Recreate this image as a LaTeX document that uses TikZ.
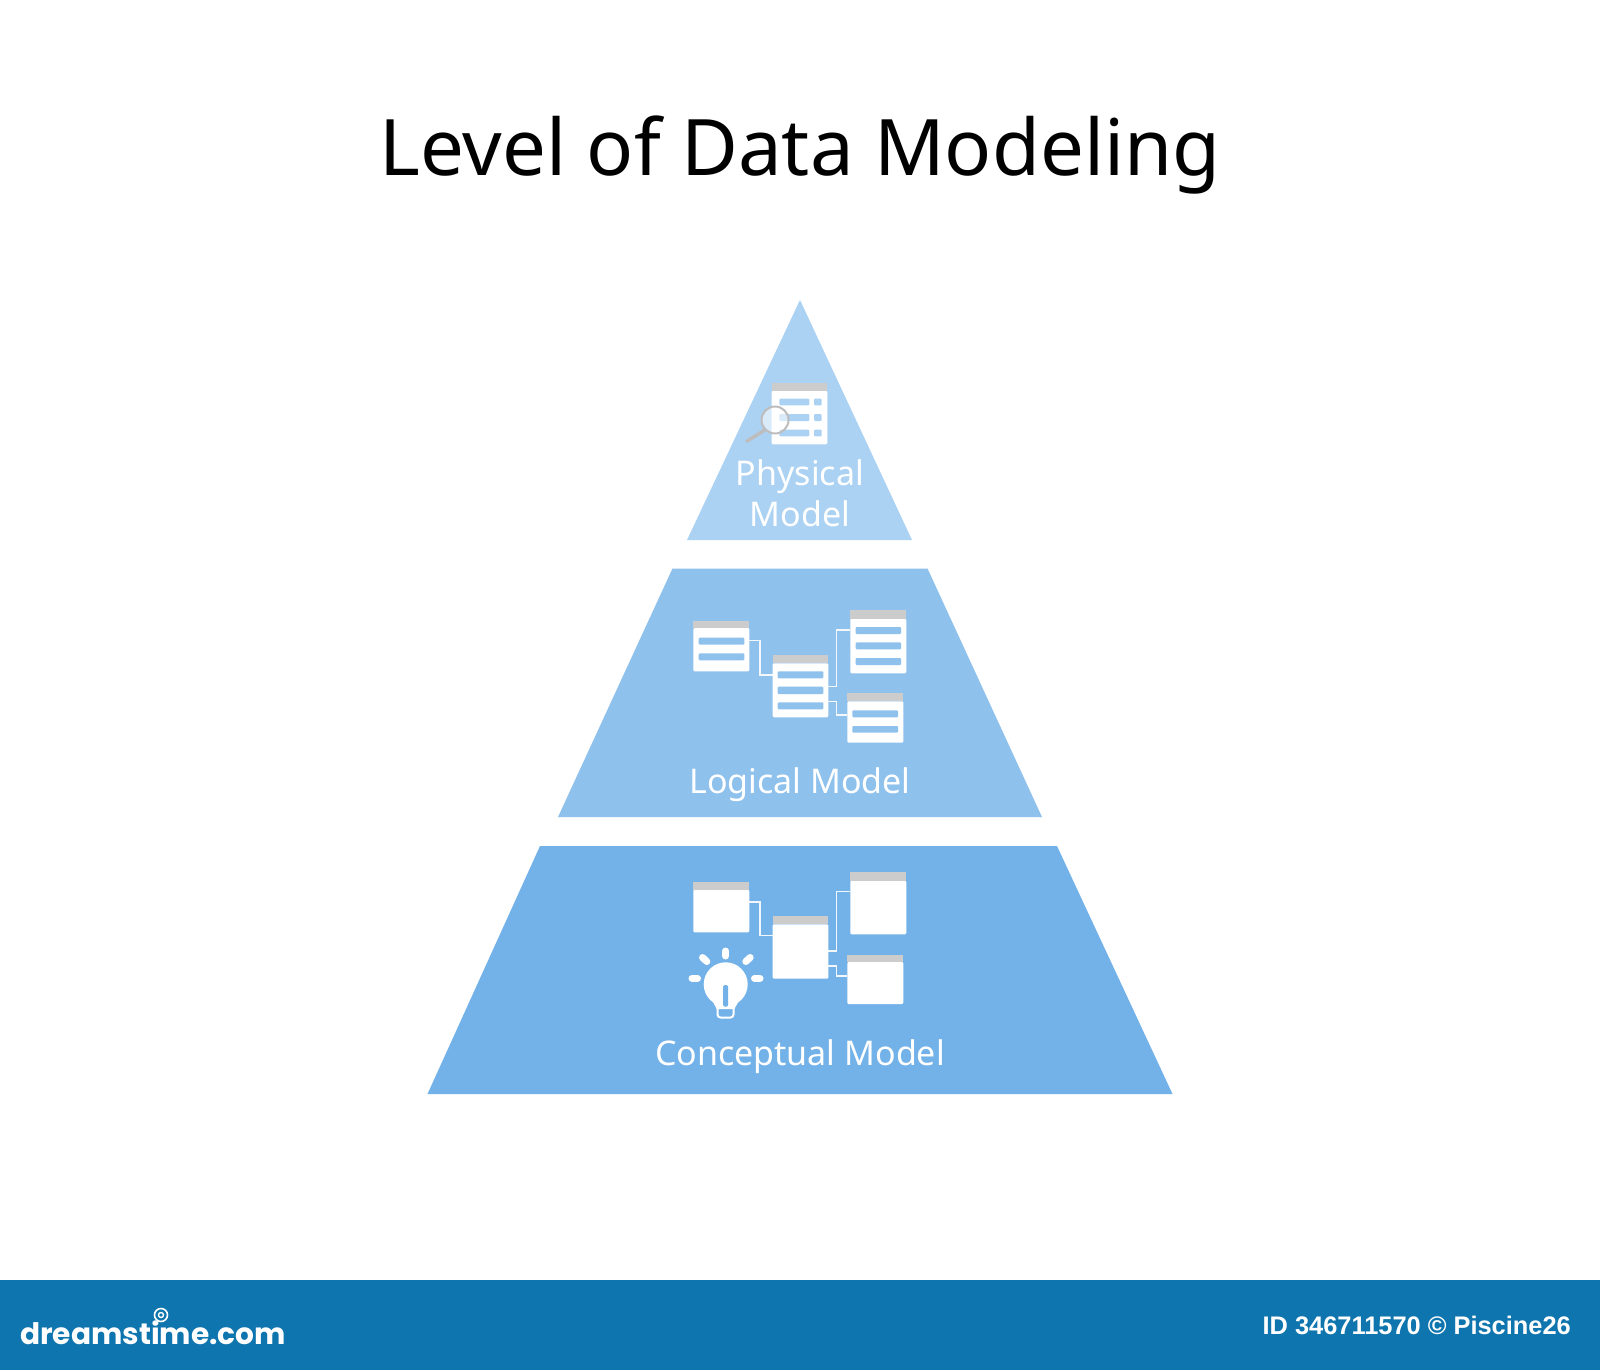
\documentclass[tikz,border=0pt]{standalone}
\usepackage{fontspec}
\setmainfont{Noto Sans}
\newfontfamily\bannerfont{Liberation Sans}
\newfontfamily\logofont{Poppins}
\definecolor{lvlTop}{HTML}{ABD2F3}
\definecolor{lvlMid}{HTML}{8FC1ED}
\definecolor{lvlBot}{HTML}{73B2E8}
\definecolor{hdr}{HTML}{CCCCCC}
\definecolor{banner}{HTML}{0F75AE}
\definecolor{lensgray}{HTML}{BDBDBD}
% \tablebox{name}{x1}{x2}{y1}{y2}{y3}: header y1..y2, white body y2..y3
\newcommand{\tablebox}[6]{%
  \fill[white,rounded corners=1.2pt] (#2,#5) rectangle (#3,#6);
  \fill[hdr] (#2,#4) rectangle (#3,#5);
  \path (#2,#4) coordinate (#1-nw) (#3,#6) coordinate (#1-se);
  \node[tblframe,fit=(#1-nw)(#1-se)] (#1) {};
}
\newcommand{\rowbar}[4]{\fill[rowcol,rounded corners=1pt] (#1,#3) rectangle (#2,#4);}
\usetikzlibrary{fit}
\tikzset{
  tblframe/.style={inner sep=0pt,outer sep=0pt,draw=none},
  conn/.style={draw=white,line width=1.3pt,opacity=.9},
  lbl/.style={text=white,font=\fontsize{34}{40}\selectfont,inner sep=0pt,align=center},
  rowcol/.style={fill=lvlMid}
}
\begin{document}
\begin{tikzpicture}[x=1pt,y=-1pt]
\useasboundingbox (0,0) rectangle (1600,1370);
\fill[white] (0,0) rectangle (1600,1370);
\node[inner sep=0pt,font=\fontsize{78}{90}\selectfont] (title) at (800,155) {Level of Data Modeling};
% pyramid
\fill[lvlTop] (800,300) -- (912,540) -- (687,540) -- cycle;
\fill[lvlMid] (672.5,568.5) -- (927.5,568.5) -- (1042,817) -- (558,817) -- cycle;
\fill[lvlBot] (540,846) -- (1057,846) -- (1172.5,1094) -- (427.5,1094) -- cycle;
% physical icon
\tablebox{P}{771.7}{827.3}{382.7}{390.7}{444.3}
\tikzset{rowcol/.style={fill=lvlTop}}
\rowbar{779.3}{809.3}{398.7}{405.3}\rowbar{814}{821.7}{398.7}{405.3}
\rowbar{779.3}{809.3}{414}{421}\rowbar{814}{821.7}{414}{421}
\rowbar{779.3}{809.3}{429.7}{436.3}\rowbar{814}{821.7}{429.7}{436.3}
\draw[lensgray,line width=3.5pt] (765,430) -- (746,441.7);
\fill[white,opacity=.55] (775,420) circle (13.5);
\draw[lensgray,line width=2pt] (775,420) circle (13.5);
\node[lbl] (physical) at (800,477) {Physical};
\node[lbl] (pmodel) at (800,514) {Model};
% logical icon
\tablebox{LA}{693.3}{749.3}{620.7}{628}{671.3}
\tablebox{LB}{772.7}{828.3}{655}{663.3}{717.3}
\tablebox{LC}{850.3}{906.3}{610}{618.7}{673.3}
\tablebox{LD}{847.3}{903.3}{693.3}{701.3}{742.7}
\tikzset{rowcol/.style={fill=lvlMid}}
\rowbar{698.7}{744.3}{637.7}{644.7}\rowbar{698.7}{744.3}{653.3}{660.3}
\rowbar{777.7}{823.3}{671.3}{678.3}\rowbar{777.7}{823.3}{686.7}{694}\rowbar{777.7}{823.3}{702.3}{709.3}
\rowbar{855.7}{901}{627}{634}\rowbar{855.7}{901}{642.3}{649.3}\rowbar{855.7}{901}{658}{665}
\rowbar{852.3}{898}{710.3}{717.3}\rowbar{852.3}{898}{726}{732.7}
\draw[conn] ([yshift=5.3pt]LA.east) -- ++(10.7,0) |- ([yshift=11.2pt]LB.west);
\draw[conn] ([yshift=-0.5pt]LB.east) -- ++(8.4,0) |- ([yshift=11.7pt]LC.west);
\draw[conn] ([yshift=-15.5pt]LB.east) -- ++(8.4,0) |- ([yshift=3pt]LD.west);
\node[lbl] (logical) at (800,785) {Logical Model};
% conceptual icon
\tablebox{CA}{693.3}{749.3}{882.3}{889.7}{932.3}
\tablebox{CB}{772.7}{828.3}{916}{924.3}{978.7}
\tablebox{CC}{850.3}{906.3}{871.7}{880.7}{934.3}
\tablebox{CD}{847.3}{903.3}{954.7}{962}{1004}
\draw[conn] ([yshift=5.3pt]CA.east) -- ++(10.7,0) |- ([yshift=11.6pt]CB.west);
\draw[conn] ([yshift=-3.7pt]CB.east) -- ++(8.4,0) |- ([yshift=11.7pt]CC.west);
\draw[conn] ([yshift=-18.7pt]CB.east) -- ++(8.4,0) |- ([yshift=3.4pt]CD.west);
% bulb
\fill[white] (725.7,984.3) circle (22);
\fill[white] (712,1000) -- (739.4,1000) -- (734.3,1009) -- (716.7,1009) -- cycle;
\fill[lvlBot,rounded corners=1.5pt] (723.2,985) rectangle (728.2,1006.7);
\draw[white,line width=2pt,rounded corners=3pt] (717.5,1007) -- (717.5,1017.5) -- (733.5,1017.5) -- (733.5,1007);
\draw[white,line width=7pt,line cap=round] (725.7,951) -- (725.7,956);
\draw[white,line width=7pt,line cap=round] (692,978.3) -- (697.5,978.3);
\draw[white,line width=7pt,line cap=round] (754.5,978.3) -- (760,978.3);
\draw[white,line width=7pt,line cap=round] (702.5,957.5) -- (706.8,961.5);
\draw[white,line width=7pt,line cap=round] (750.2,957.5) -- (745.8,961.5);
\node[lbl] (conceptual) at (800,1057) {Conceptual Model};
% banner
\fill[banner] (0,1280) rectangle (1600,1370);
\node[text=white,inner sep=0pt,anchor=west,font=\logofont\bfseries\fontsize{29.6}{32}\selectfont] (logo) at (20,1333) {dreamstime.com};
\draw[white,line width=1.6pt] (161,1315) circle (6.5);
\draw[white,line width=1.4pt] (161,1315) circle (2.5);
\node[text=white,inner sep=0pt,anchor=east,font=\bannerfont\bfseries\fontsize{25.4}{28}\selectfont] (credit) at (1571,1325) {ID 346711570 © Piscine26};
\end{tikzpicture}
\end{document}
